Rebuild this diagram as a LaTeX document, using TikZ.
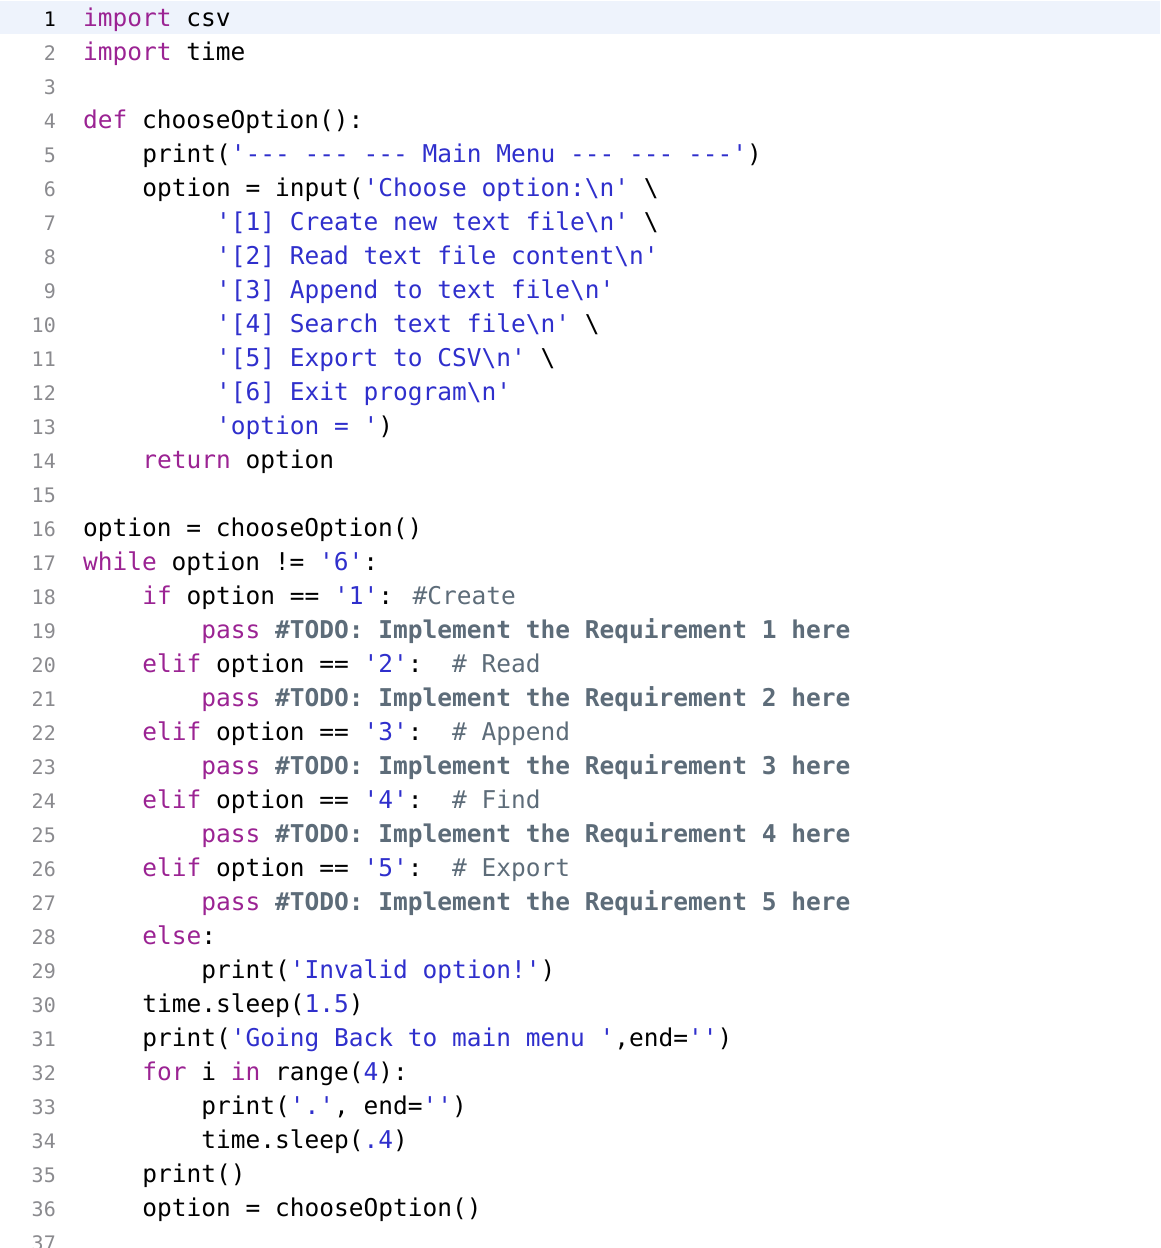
\documentclass[tikz,border=0pt]{standalone}
\usepackage{fontspec}
\newfontfamily\code{DejaVu Sans Mono}
\definecolor{kw}{HTML}{9B2393}
\definecolor{st}{HTML}{2F2FCC}
\definecolor{cm}{HTML}{5D6C79}
\definecolor{ln}{HTML}{8A8A8E}
\definecolor{hl}{HTML}{EEF3FC}
\newcommand\kw[1]{\textcolor{kw}{#1}}
\newcommand\st[1]{\textcolor{st}{#1}}
\newcommand\cm[1]{\textcolor{cm}{#1}}
\newcommand\bc[1]{\textcolor{cm}{\bfseries #1}}
\newcommand\bs{\textbackslash}
\begin{document}
\begin{tikzpicture}[x=1pt,y=-1pt,
  cl/.style={anchor=base west,inner sep=0pt,font=\code\fontsize{24.5}{26}\selectfont,text=black},
  nl/.style={anchor=base east,inner sep=0pt,font=\code\fontsize{20}{22}\selectfont,text=ln}]
\useasboundingbox (0,0) rectangle (1160,1248);
\fill[hl] (0,1) rectangle (1160,34);
\foreach \n in {1,...,37}{
  \pgfmathsetmacro\yy{26+34*(\n-1)}
  \ifnum\n=1 \node[nl,text=black] (n\n) at (56,\yy) {\n};
  \else \node[nl] (n\n) at (56,\yy) {\n};\fi
}
\newcommand\Ln[3]{\node[cl] (l#1) at ({83+14.78*#2},{26+34*(#1-1)}) {#3};}
\Ln{1}{0}{\kw{import} csv}
\Ln{2}{0}{\kw{import} time}
\Ln{4}{0}{\kw{def} chooseOption():}
\Ln{5}{4}{print(\st{'--- --- --- Main Menu --- --- ---'})}
\Ln{6}{4}{option = input(\st{'Choose option:\bs n'} \bs}
\Ln{7}{9}{\st{'[1] Create new text file\bs n'} \bs}
\Ln{8}{9}{\st{'[2] Read text file content\bs n'}}
\Ln{9}{9}{\st{'[3] Append to text file\bs n'}}
\Ln{10}{9}{\st{'[4] Search text file\bs n'} \bs}
\Ln{11}{9}{\st{'[5] Export to CSV\bs n'} \bs}
\Ln{12}{9}{\st{'[6] Exit program\bs n'}}
\Ln{13}{9}{\st{'option = '})}
\Ln{14}{4}{\kw{return} option}
\Ln{16}{0}{option = chooseOption()}
\Ln{17}{0}{\kw{while} option != \st{'6'}:}
\Ln{18}{4}{\kw{if} option == \st{'1'}: \cm{\#Create}}
\Ln{19}{8}{\kw{pass} \bc{\#TODO: Implement the Requirement 1 here}}
\Ln{20}{4}{\kw{elif} option == \st{'2'}:\ \ \cm{\# Read}}
\Ln{21}{8}{\kw{pass} \bc{\#TODO: Implement the Requirement 2 here}}
\Ln{22}{4}{\kw{elif} option == \st{'3'}:\ \ \cm{\# Append}}
\Ln{23}{8}{\kw{pass} \bc{\#TODO: Implement the Requirement 3 here}}
\Ln{24}{4}{\kw{elif} option == \st{'4'}:\ \ \cm{\# Find}}
\Ln{25}{8}{\kw{pass} \bc{\#TODO: Implement the Requirement 4 here}}
\Ln{26}{4}{\kw{elif} option == \st{'5'}:\ \ \cm{\# Export}}
\Ln{27}{8}{\kw{pass} \bc{\#TODO: Implement the Requirement 5 here}}
\Ln{28}{4}{\kw{else}:}
\Ln{29}{8}{print(\st{'Invalid option!'})}
\Ln{30}{4}{time.sleep(\st{1.5})}
\Ln{31}{4}{print(\st{'Going Back to main menu '},end=\st{''})}
\Ln{32}{4}{\kw{for} i \kw{in} range(\st{4}):}
\Ln{33}{8}{print(\st{'.'}, end=\st{''})}
\Ln{34}{8}{time.sleep(\st{.4})}
\Ln{35}{4}{print()}
\Ln{36}{4}{option = chooseOption()}
\end{tikzpicture}
\end{document}
